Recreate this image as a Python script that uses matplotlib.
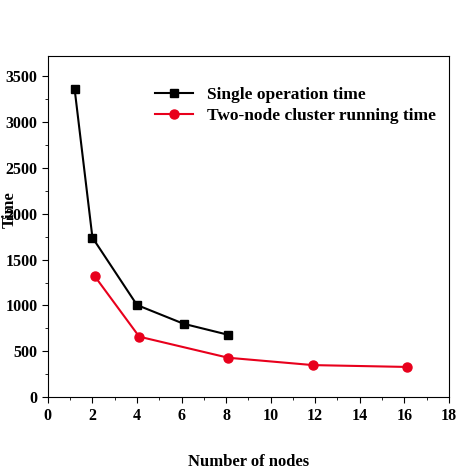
import matplotlib.pyplot as plt
from matplotlib.ticker import MultipleLocator

single_x = [1.2, 2, 4, 6.1, 8.1]
single_y = [3360, 1740, 1005, 800, 680]
cluster_x = [2.1, 4.1, 8.1, 11.9, 16.1]
cluster_y = [1320, 660, 430, 350, 330]

plt.rcParams['font.family'] = ['Liberation Serif', 'DejaVu Serif']
plt.rcParams['font.weight'] = 'bold'

fig = plt.figure(figsize=(4.74, 4.74), dpi=100)
ax = fig.add_axes([0.101, 0.162, 0.846, 0.72])

ax.plot(single_x, single_y, '-s', color='black', ms=6, lw=1.5, label='Single operation time')
ax.plot(cluster_x, cluster_y, '-o', color='#e8001c', ms=6.5, lw=1.5, label='Two-node cluster running time')

ax.set_xlim(0, 18)
ax.set_ylim(0, 3720)
ax.xaxis.set_major_locator(MultipleLocator(2))
ax.xaxis.set_minor_locator(MultipleLocator(1))
ax.yaxis.set_major_locator(MultipleLocator(500))
ax.yaxis.set_minor_locator(MultipleLocator(250))
ax.tick_params(which='both', direction='out', labelsize=11.5)
ax.tick_params(which='major', length=4)
ax.tick_params(which='minor', length=2.5)
for lab in ax.get_xticklabels() + ax.get_yticklabels():
    lab.set_fontweight('bold')

ax.set_xlabel('Number of nodes', fontsize=12, fontweight='bold', labelpad=22)
ax.set_ylabel('Time', fontsize=12, fontweight='bold')
ax.yaxis.set_label_coords(-0.075, 0.55)

ax.legend(loc='upper left', bbox_to_anchor=(0.25, 0.93), frameon=False,
          prop={'size': 12.5, 'weight': 'bold'}, handlelength=2.2,
          labelspacing=0.3, borderaxespad=0)

fig.savefig('out.png', dpi=100)
